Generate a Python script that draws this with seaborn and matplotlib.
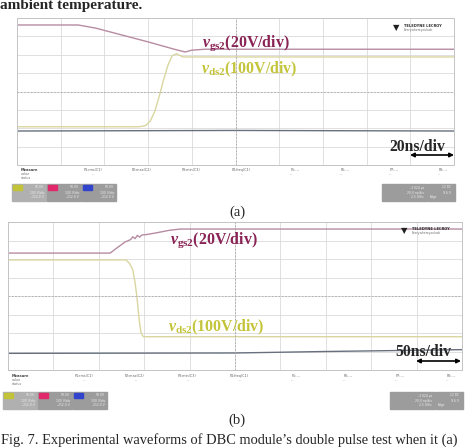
import numpy as np
import pandas as pd
import matplotlib
matplotlib.use("Agg")
import matplotlib.pyplot as plt
import seaborn as sns
from matplotlib.patches import Rectangle

# scope traces, time and level both in screen divisions (10 x 8 grid)
# (a) 20ns/div
a_gs_t = [0, 1.4, 1.8, 2.2, 2.6, 3.0, 3.3, 3.6, 3.85, 4.0, 4.3, 10]
a_gs_v = [3.62, 3.62, 3.45, 3.2, 2.95, 2.7, 2.5, 2.3, 2.15, 2.25, 2.3, 2.3]
a_ds_t = [0, 2.8, 2.95, 3.05, 3.15, 3.25, 3.35, 3.45, 3.55, 3.65, 3.8, 10]
a_ds_v = [-1.92, -1.92, -1.85, -1.6, -1.1, -0.3, 0.6, 1.4, 1.95, 2.05, 1.88, 1.88]
a_i_t = [0, 5, 10]
a_i_v = [-2.15, -2.12, -2.15]

# (b) 50ns/div
b_gs_t = [0, 2.25, 2.4, 2.58, 2.7, 2.75, 2.8, 2.85, 2.9, 2.95, 3.05, 3.28, 3.55, 3.8, 10]
b_gs_v = [2.32, 2.32, 2.6, 2.92, 3.05, 3.2, 3.1, 3.28, 3.18, 3.3, 3.32, 3.42, 3.55, 3.62, 3.62]
b_ds_t = [0, 2.6, 2.68, 2.75, 2.8, 2.84, 2.89, 2.93, 2.98, 10]
b_ds_v = [1.95, 1.95, 1.75, 1.4, 0.7, -0.05, -1.3, -2.0, -2.2, -2.2]
b_i_t = [0, 5, 7, 10]
b_i_v = [-3.1, -3.08, -3.0, -2.9]

measure_labels = ["P1:rms(C1)", "P2:max(C2)", "P3:min(C3)", "P4:freq(C1)",
                  "P5:---", "P6:---", "P7:---", "P8:---"]
gs_label = r"$\mathit{v}_{\mathrm{gs2}}$(20V/div)"
ds_label = r"$\mathit{v}_{\mathrm{ds2}}$(100V/div)"

sns.set_style("white")
plt.rcParams["font.family"] = ["Liberation Serif", "DejaVu Sans"]
plt.rcParams["mathtext.fontset"] = "custom"
plt.rcParams["mathtext.rm"] = "Liberation Serif:bold"
plt.rcParams["mathtext.it"] = "Liberation Serif:italic:bold"

W, H = 474, 447
fig = plt.figure(figsize=(W / 100, H / 100), dpi=100)

GS_COL = "#b78ca2"
DS_COL = "#d9d6a0"
I_COL = "#68707e"
GS_TXT = "#8a2456"
DS_TXT = "#c4c43a"


def px_axes(x0, y0, x1, y1):
    return fig.add_axes([x0 / W, 1 - y1 / H, (x1 - x0) / W, (y1 - y0) / H])


def scope(ax, traces):
    for t, v, c in traces:
        df = pd.DataFrame({"t": t, "v": v})
        sns.lineplot(data=df, x="t", y="v", ax=ax, color=c, lw=1.0,
                     sort=False, estimator=None)
    ax.set_xlim(0, 10)
    ax.set_ylim(-4, 4)
    ax.set_xticks(range(11))
    ax.set_yticks(range(-4, 5))
    ax.grid(True, color="#dadada", lw=0.6)
    ax.axvline(5, color="#a8a8a8", lw=0.6, ls=(0, (2, 2)))
    ax.axhline(0, color="#a8a8a8", lw=0.6, ls=(0, (2, 2)))
    ax.tick_params(length=0, labelbottom=False, labelleft=False)
    ax.set_xlabel("")
    ax.set_ylabel("")
    for s in ax.spines.values():
        s.set_color("#c4c4c4")
        s.set_linewidth(0.7)


ax_a = px_axes(17, 18, 454, 165)
scope(ax_a, [(a_i_t, a_i_v, I_COL), (a_ds_t, a_ds_v, DS_COL), (a_gs_t, a_gs_v, GS_COL)])
ax_b = px_axes(8, 222, 462, 370)
scope(ax_b, [(b_i_t, b_i_v, I_COL), (b_ds_t, b_ds_v, DS_COL), (b_gs_t, b_gs_v, GS_COL)])

# overlay in pixel coordinates for text and scope chrome
ov = fig.add_axes([0, 0, 1, 1], facecolor="none")
ov.set_xlim(0, W)
ov.set_ylim(H, 0)
ov.axis("off")


def chrome(left, right, meas_y, box_y, logo_y):
    # logo
    ov.text(right - 58, logo_y, "\u25bc", fontsize=6, color="#202020",
            ha="center", va="center", family="DejaVu Sans")
    ov.text(right - 50, logo_y - 2, "TELEDYNE LECROY", fontsize=2.6, color="#303030",
            ha="left", va="center", family="DejaVu Sans", weight="bold")
    ov.text(right - 50, logo_y + 2, "Everywhereyoulook", fontsize=2.2, color="#707070",
            ha="left", va="center", family="DejaVu Sans")
    # measure row
    ov.text(left + 4, meas_y, "Measure", fontsize=2.6, color="#404040",
            va="center", family="DejaVu Sans", weight="bold")
    ov.text(left + 4, meas_y + 4, "value", fontsize=2.4, color="#707070",
            va="center", family="DejaVu Sans")
    ov.text(left + 4, meas_y + 8, "status", fontsize=2.4, color="#707070",
            va="center", family="DejaVu Sans")
    xs = np.linspace(left + 85, right - 6, len(measure_labels))
    for x, lab in zip(xs, measure_labels):
        ov.text(x, meas_y, lab, fontsize=2.4, color="#606060", ha="right",
                va="center", family="DejaVu Sans")
        ov.text(x - 8, meas_y + 4, "---", fontsize=2.2, color="#909090", ha="center",
                va="center", family="DejaVu Sans")
    # channel boxes
    tags = ["#c3c33a", "#e0286a", "#3344cc"]
    bx = left - 5
    for i, tc in enumerate(tags):
        ov.add_patch(Rectangle((bx + i * 35, box_y), 34, 17, color="#9c9c9c" if i else "#b0b0b0"))
        ov.add_patch(Rectangle((bx + i * 35 + 1, box_y + 1), 9, 5, color=tc))
        ov.text(bx + i * 35 + 32, box_y + 3.5, "50.0V", fontsize=2.2, color="#f0f0f0",
                ha="right", va="center", family="DejaVu Sans")
        ov.text(bx + i * 35 + 32, box_y + 8.5, "100 V/div", fontsize=2.2, color="#f0f0f0",
                ha="right", va="center", family="DejaVu Sans")
        ov.text(bx + i * 35 + 32, box_y + 13, "-212.0 V", fontsize=2.2, color="#f0f0f0",
                ha="right", va="center", family="DejaVu Sans")
    ov.add_patch(Rectangle((right - 72, box_y), 45, 17, color="#9c9c9c"))
    ov.add_patch(Rectangle((right - 26, box_y), 27, 17, color="#9c9c9c"))
    ov.text(right - 30, box_y + 3.5, "-3.024 \u03bcs", fontsize=2.2, color="#f0f0f0",
            ha="right", va="center", family="DejaVu Sans")
    ov.text(right - 30, box_y + 8.5, "20.0 ns/div", fontsize=2.2, color="#f0f0f0",
            ha="right", va="center", family="DejaVu Sans")
    ov.text(right - 30, box_y + 13, "2.5 GS/s", fontsize=2.2, color="#f0f0f0",
            ha="right", va="center", family="DejaVu Sans")
    ov.text(right - 3, box_y + 3.5, "C2 DC", fontsize=2.2, color="#f0f0f0",
            ha="right", va="center", family="DejaVu Sans")
    ov.text(right - 3, box_y + 8.5, "9.6 V", fontsize=2.2, color="#f0f0f0",
            ha="right", va="center", family="DejaVu Sans")
    ov.text(right - 24, box_y + 13, "Edge", fontsize=2.2, color="#f0f0f0",
            ha="left", va="center", family="DejaVu Sans")


chrome(17, 454, 170, 184, 28)
chrome(8, 462, 376, 392, 231)

lab_kw = dict(fontsize=11.4, weight="bold", va="center", ha="left")
ov.text(202, 43, gs_label, color=GS_TXT, **lab_kw)
ov.text(201, 69, ds_label, color=DS_TXT, **lab_kw)
ov.text(170, 240, gs_label, color=GS_TXT, **lab_kw)
ov.text(168, 327, ds_label, color=DS_TXT, **lab_kw)

ov.text(417, 147, "20ns/div", fontsize=11.3, weight="bold", ha="center", va="center")
ov.annotate("", xy=(454, 155), xytext=(410, 155),
            arrowprops=dict(arrowstyle="<|-|>", color="black", lw=1.2,
                            mutation_scale=6, shrinkA=0, shrinkB=0))
ov.text(423, 352, "50ns/div", fontsize=11.3, weight="bold", ha="center", va="center")
ov.annotate("", xy=(461, 361), xytext=(416, 361),
            arrowprops=dict(arrowstyle="<|-|>", color="black", lw=1.2,
                            mutation_scale=6, shrinkA=0, shrinkB=0))

ov.text(237, 212, "(a)", fontsize=10.5, ha="center", va="center")
ov.text(237, 420, "(b)", fontsize=10.5, ha="center", va="center")
ov.text(0, 8.5, "ambient temperature.", fontsize=11, weight="bold", ha="left", va="baseline")
ov.text(1, 440, "Fig. 7. Experimental waveforms of DBC module\u2019s double pulse test when it (a)",
        fontsize=10.4, ha="left", va="center")

fig.savefig("out.png", dpi=100)
